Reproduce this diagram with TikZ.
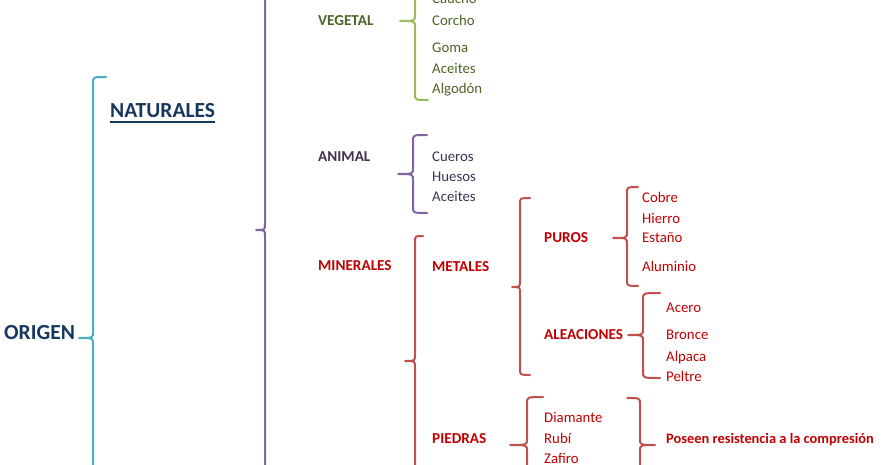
\documentclass[tikz,border=0pt]{standalone}
\usepackage{fontspec}
\setmainfont{Carlito}
\definecolor{dblue}{HTML}{17375E}
\definecolor{olive}{HTML}{4F6228}
\definecolor{dpurple}{HTML}{3F3151}
\definecolor{rtext}{HTML}{C00000}
\definecolor{bcyan}{HTML}{4BACC6}
\definecolor{bpurple}{HTML}{8064A2}
\definecolor{bgreen}{HTML}{9BBB59}
\definecolor{bred}{HTML}{C0504D}
\tikzset{
  lab/.style={anchor=base west, inner sep=0pt, font=\bfseries\fontsize{15.2}{18}\selectfont},
  itm/.style={anchor=base west, inner sep=0pt, font=\fontsize{14.8}{17}\selectfont},
  big/.style={anchor=base west, inner sep=0pt, font=\bfseries\fontsize{21.5}{24}\selectfont, text=dblue},
  bracestyle/.style={line width=2pt, line cap=round, line join=round}
}
% left brace: #1=x line, #2=top, #3=tip y, #4=bottom, #5=hook x, #6=tip x, #7=color
\newcommand\myLB[7]{\draw[bracestyle,#7] (#5,#2) .. controls (#1,#2) .. (#1,#2+6) -- (#1,#3-6) .. controls (#1,#3) .. (#6,#3) .. controls (#1,#3) .. (#1,#3+6) -- (#1,#4-6) .. controls (#1,#4) .. (#5,#4);}
\begin{document}
\begin{tikzpicture}[x=1pt,y=-1pt]
\useasboundingbox (0,0) rectangle (886,465);
\clip (0,0) rectangle (886,465);
% braces
\myLB{93}{77}{338}{560}{106}{79}{bcyan}
\myLB{265}{-60}{230}{560}{278}{256}{bpurple}
\myLB{415}{-60}{21}{100}{428}{400}{bgreen}
\myLB{413}{135}{174}{213}{427}{398}{bpurple}
\myLB{415}{236}{361}{560}{423}{405}{bred}
\myLB{520}{198}{287}{375}{530}{512}{bred}
\myLB{627}{187}{238}{286}{638}{613}{bred}
\myLB{643}{293}{335}{378}{660}{628}{bred}
\myLB{527}{397}{445}{560}{543}{510}{bred}
\myLB{640}{398}{445}{560}{627}{655}{bred}
% level 0/1
\node[big] (origen) at (4,339) {ORIGEN};
\node[big] (naturales) at (110,118) {NATURALES};
\draw[dblue, line width=1.6pt] ([yshift=-4pt]naturales.base west) -- ([yshift=-4pt]naturales.base east);
% level 2
\node[lab, text=olive] (vegetal) at (318,26) {VEGETAL};
\node[lab, text=dpurple] (animal) at (318,162) {ANIMAL};
\node[lab, text=rtext] (minerales) at (318,270) {MINERALES};
% vegetal items
\node[itm, text=olive] (caucho) at (432,4) {Caucho};
\node[itm, text=olive] (corcho) at (432,26) {Corcho};
\node[itm, text=olive] (goma) at (432,53) {Goma};
\node[itm, text=olive] (aceitesv) at (432,74) {Aceites};
\node[itm, text=olive] (algodon) at (432,94) {Algodón};
% animal items
\node[itm, text=dpurple] (cueros) at (432,162) {Cueros};
\node[itm, text=dpurple] (huesos) at (432,182) {Huesos};
\node[itm, text=dpurple] (aceitesa) at (432,202) {Aceites};
% minerales
\node[lab, text=rtext] (metales) at (432,271) {METALES};
\node[lab, text=rtext] (piedras) at (432,443) {PIEDRAS};
\node[lab, text=rtext] (puros) at (544,243) {PUROS};
\node[lab, text=rtext] (aleaciones) at (544,339) {ALEACIONES};
\node[itm, text=rtext] (cobre) at (642,203) {Cobre};
\node[itm, text=rtext] (hierro) at (642,223) {Hierro};
\node[itm, text=rtext] (estano) at (642,243) {Estaño};
\node[itm, text=rtext] (aluminio) at (642,271) {Aluminio};
\node[itm, text=rtext] (acero) at (666,312) {Acero};
\node[itm, text=rtext] (bronce) at (666,339) {Bronce};
\node[itm, text=rtext] (alpaca) at (666,361) {Alpaca};
\node[itm, text=rtext] (peltre) at (666,381) {Peltre};
\node[itm, text=rtext] (diamante) at (544,422) {Diamante};
\node[itm, text=rtext] (rubi) at (544,443) {Rubí};
\node[itm, text=rtext] (zafiro) at (544,463) {Zafiro};
\node[lab, text=rtext, font=\bfseries\fontsize{14.4}{17}\selectfont] (poseen) at (666,443) {Poseen resistencia a la compresión};
\end{tikzpicture}
\end{document}
